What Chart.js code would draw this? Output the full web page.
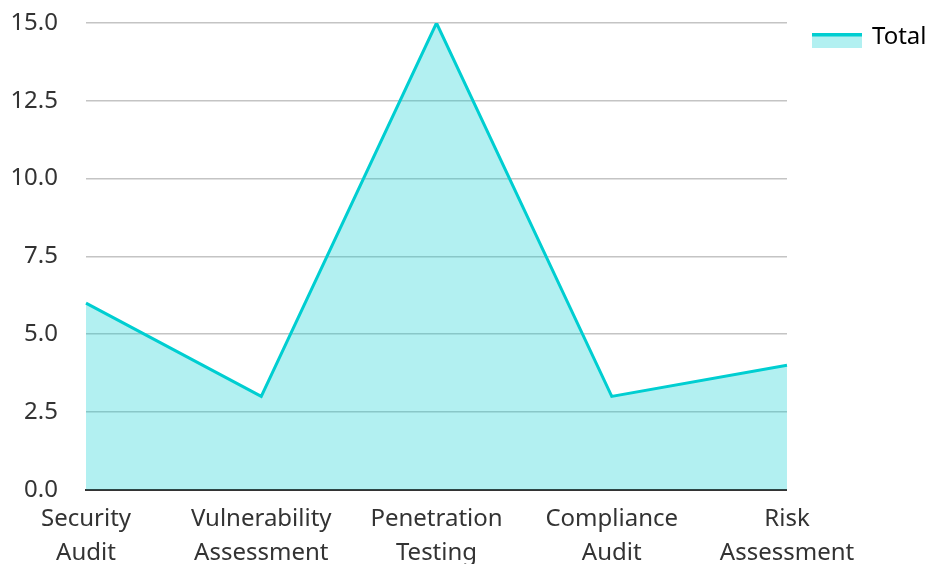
<!DOCTYPE html>
<html>
<head>
<meta charset="utf-8">
<script src="https://cdn.jsdelivr.net/npm/chart.js@4.4.1/dist/chart.umd.min.js"></script>
<style>
  html, body { margin: 0; padding: 0; background: #fff; overflow: hidden; }
  #wrap { width: 928px; height: 583px; position: relative; }
</style>
</head>
<body>
<div id="wrap"><canvas id="myChart"></canvas></div>
<script>
const categories = [['Security', 'Audit'], ['Vulnerability', 'Assessment'], ['Penetration', 'Testing'], ['Compliance', 'Audit'], ['Risk', 'Assessment']];
const totals = [6, 3, 15, 3, 4];
const yTicks = [0, 2.5, 5, 7.5, 10, 12.5, 15];

const lineColor = 'rgb(0, 206, 209)';
const fillColor = 'rgba(0, 206, 209, 0.3)';

Chart.defaults.font.family = '"Noto Sans", "Open Sans", sans-serif';
Chart.defaults.font.size = 24;
Chart.defaults.color = '#333';

// legend swatch: light fill with a thick line along its top edge
const legendSwatch = {
    id: 'legendSwatch',
    afterDraw(chart) {
        const boxes = chart.legend.legendHitBoxes;
        if (!boxes || !boxes.length) return;
        const b = boxes[0];
        const top = b.top + 8;
        const ctx = chart.ctx;
        ctx.save();
        ctx.fillStyle = fillColor;
        ctx.fillRect(b.left, top, 50, 15);
        ctx.strokeStyle = lineColor;
        ctx.lineWidth = 3.5;
        ctx.beginPath();
        ctx.moveTo(b.left, top + 1.75);
        ctx.lineTo(b.left + 50, top + 1.75);
        ctx.stroke();
        ctx.restore();
    }
};

const ctx = document.getElementById('myChart').getContext('2d');
const myChart = new Chart(ctx, {
    type: 'line',
    data: {
        labels: categories,
        datasets: [{
            label: 'Total',
            data: totals,
            borderColor: lineColor,
            backgroundColor: fillColor,
            borderWidth: 3,
            fill: true,
            tension: 0,
            pointRadius: 0,
        }],
    },
    options: {
        responsive: true,
        maintainAspectRatio: false,
        animation: false,
        layout: { padding: { top: 0, left: 0, right: -8.5, bottom: 0 } },
        plugins: {
            legend: {
                position: 'right',
                align: 'start',
                labels: {
                    boxWidth: 48,
                    boxHeight: 15,
                    padding: 25,
                    font: { size: 24 },
                    generateLabels: (chart) => [{
                        text: 'Total',
                        fillStyle: 'rgba(0,0,0,0)',
                        strokeStyle: 'rgba(0,0,0,0)',
                        lineWidth: 0,
                        datasetIndex: 0,
                    }],
                },
            },
            tooltip: { enabled: false },
        },
        scales: {
            x: {
                grid: { display: false, drawTicks: false },
                border: { color: '#333', width: 2 },
                ticks: {
                    maxRotation: 0,
                    autoSkip: false,
                    padding: 13,
                    font: { size: 24, lineHeight: 1.4 },
                },
            },
            y: {
                min: 0,
                max: 15,
                afterBuildTicks: (axis) => { axis.ticks = yTicks.map(v => ({ value: v })); },
                afterFit: (axis) => { axis.width = 86; axis.paddingTop = 23; },
                grid: { color: '#c4c4c4', lineWidth: 1.5, drawTicks: false },
                border: { display: false },
                ticks: {
                    padding: 28,
                    font: { size: 24 },
                    callback: (v) => Number(v).toFixed(1),
                },
            },
        },
    },
    plugins: [legendSwatch],
});
</script>
</body>
</html>
